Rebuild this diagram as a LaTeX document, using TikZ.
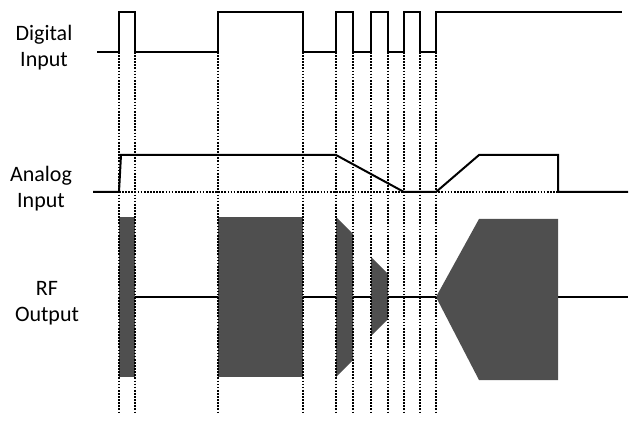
\documentclass[tikz,border=0pt]{standalone}
\usepackage{fontspec}
\setmainfont{Carlito}
\definecolor{rfgray}{RGB}{79,79,79}

\begin{document}
\begin{tikzpicture}[x=1pt,y=-1pt]
\tikzstyle{sig}=[line width=2pt,line join=miter]
\tikzstyle{edgeline}=[line width=1.7pt,dash pattern=on 1.7pt off 1.4pt]
\tikzstyle{rf}=[fill=rfgray,draw=none]
\tikzstyle{lbl}=[align=center,font=\fontsize{22}{26}\selectfont]
\useasboundingbox (0,0) rectangle (641,425);
% labels
\node[lbl] (dig) at (44,48) {Digital\\Input};
\node[lbl] (ana) at (41,189) {Analog\\Input};
\node[lbl] (rfo) at (47,303) {RF\\Output};
% digital input
\draw[sig] (97,52) -- (119,52) -- (119,12) -- (135,12) -- (135,52) -- (218,52)
  -- (218,12) -- (303,12) -- (303,52) -- (336,52) -- (336,12) -- (353,12)
  -- (353,52) -- (371,52) -- (371,12) -- (388,12) -- (388,52) -- (404,52)
  -- (404,12) -- (420,12) -- (420,52) -- (436,52) -- (436,12) -- (622,12);
% analog input
\draw[edgeline] (119,192) -- (558,192);
\draw[sig] (93,192) -- (119,192) -- (121,155) -- (336,155) -- (404,192)
  -- (436,192) -- (479,155) -- (558,155) -- (558,192) -- (628,192);
% rf output
\draw[sig] (135,297) -- (218,297) (303,297) -- (336,297) (353,297) -- (371,297)
  (388,297) -- (436,297) (558,297) -- (628,297);
\fill[rf] (119,217) rectangle (135,377);
\fill[rf] (218,217) rectangle (303,377);
\fill[rf] (336,217) -- (353,234) -- (353,360) -- (336,377) -- cycle;
\fill[rf] (371,257) -- (388,274) -- (388,319) -- (371,336) -- cycle;
\fill[rf] (436,297) -- (479,219) -- (558,219) -- (558,380) -- (479,380) -- cycle;
% switching instants
\foreach \x in {119,135,218,303,336,353,371,388,404,420,436}
  \draw[edgeline] (\x,52) -- (\x,412);
\end{tikzpicture}
\end{document}
